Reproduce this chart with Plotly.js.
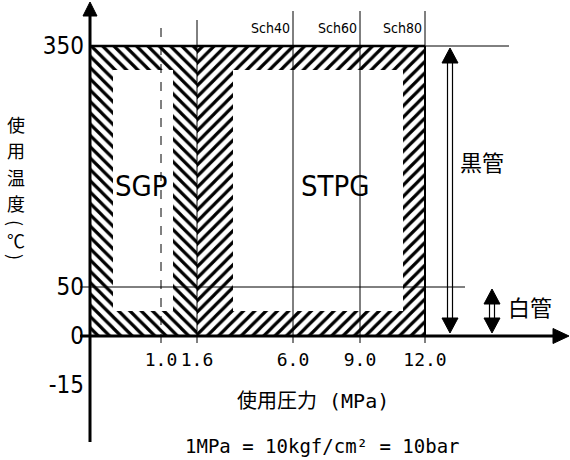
<!DOCTYPE html>
<html><head><meta charset="utf-8">
<script src="https://cdn.plot.ly/plotly-3.0.1.min.js"></script>
<style>html,body{margin:0;padding:0;background:#fff}</style>
</head><body><div id="chart" style="width:570px;height:460px"></div>
<script>
// ---- data (schematic diagram positions, not to scale) ----
const pressureLabels = ['1.0', '1.6', '6.0', '9.0', '12.0'];
const pressurePos    = [71, 107, 203, 270, 335];
const tempLabels     = ['350', '50', '0', '-15'];
const tempPos        = [290, 49, 0, -49];
const schLabels      = ['Sch40', 'Sch60', 'Sch80'];
const schIndex       = [2, 3, 4];            // Sch lines at 6.0, 9.0, 12.0
const regionNames    = ['SGP', 'STPG'];
const regionX0       = [0, 107];             // 0 .. 1.6 , 1.6 .. 12.0
const regionX1       = [107, 335];
const regionY1       = [290, 290];           // up to 350 ℃
const innerX0        = [23, 143];
const innerX1        = [83, 313];
const innerY0        = [25, 25];
const innerY1        = [266, 266];
const regionHatch    = ['\\', '/'];
const pipeNames      = ['黒管', '白管'];
const pipeX          = [360, 402];
const pipeTop        = [290, 49];            // 350 ℃ , 50 ℃
const yTitleChars    = ['使', '用', '温', '度', '(', '℃', ')'];
const yTitleY        = [212.5, 186, 159.5, 133, 113, 96, 79];

const BLACK = '#000';
const traces = [];
for (let i = 0; i < regionNames.length; i++) {
  traces.push({
    type: 'scatter', mode: 'lines', hoverinfo: 'skip', showlegend: false,
    x: [regionX0[i], regionX1[i], regionX1[i], regionX0[i], regionX0[i]],
    y: [0, 0, regionY1[i], regionY1[i], 0],
    fill: 'toself', fillcolor: '#fff', line: {width: 0},
    fillpattern: {shape: regionHatch[i], size: 8, solidity: 0.4, fgcolor: BLACK, bgcolor: '#fff', fillmode: 'replace'}
  });
}
for (let i = 0; i < regionNames.length; i++) {
  traces.push({
    type: 'scatter', mode: 'lines', hoverinfo: 'skip', showlegend: false,
    x: [innerX0[i], innerX1[i], innerX1[i], innerX0[i], innerX0[i]],
    y: [innerY0[i], innerY0[i], innerY1[i], innerY1[i], innerY0[i]],
    fill: 'toself', fillcolor: '#fff', line: {width: 0}
  });
}

const shapes = [];
const line = (x0, y0, x1, y1, w, dash) => shapes.push({type: 'line', layer: 'above', xref: 'x', yref: 'y', x0, y0, x1, y1, line: {color: BLACK, width: w, dash: dash || 'solid'}});
const tri = (pts) => shapes.push({type: 'path', layer: 'above', xref: 'x', yref: 'y',
  path: 'M' + pts.map(p => p[0] + ',' + p[1]).join(' L') + ' Z', fillcolor: BLACK, line: {color: BLACK, width: 1}});

line(0, tempPos[0], 419, tempPos[0], 1);
line(-10, tempPos[1], 375, tempPos[1], 1);
pressurePos.forEach((p, i) => {
  const top = i < 2 ? 316 : 325;
  line(p, -7, p, top, 1, i === 0 ? 'dash' : 'solid');
});
line(0, regionY1[1], regionX1[1], regionY1[1], 2.5);
line(regionX1[1], 0, regionX1[1], regionY1[1], 2);
line(0, -106, 0, 322, 3);
line(-10, 0, 464, 0, 3);
tri([[0, 334], [-7, 320], [7, 320]]);
tri([[479, 0], [463, 7.5], [463, -7.5]]);
for (let i = 0; i < pipeNames.length; i++) {
  const x = pipeX[i], t = pipeTop[i] - 2, b = 3, h = 15, w = 8;
  tri([[x, t], [x - w, t - h], [x + w, t - h]]);
  tri([[x, b], [x - w, b + h], [x + w, b + h]]);
  line(x - 2.5, b + h, x - 2.5, t - h, 1.2);
  line(x + 2.5, b + h, x + 2.5, t - h, 1.2);
}

const JP = 'Noto Sans CJK JP';
const NARROW = 'DejaVu Sans Condensed, Liberation Sans';
const MONO = 'DejaVu Sans Mono';
const ann = [];
const txt = (x, y, text, size, family, xanchor, angle) => ann.push({xref: 'x', yref: 'y', x, y, text, showarrow: false,
  xanchor: xanchor || 'center', yanchor: 'middle', textangle: angle || 0, font: {size, family, color: BLACK}});

txt(51, 150, regionNames[0], 29, NARROW);
txt(245, 150, regionNames[1], 29, NARROW);
schLabels.forEach((s, k) => txt(pressurePos[schIndex[k]] - 1, 308, s, 14, NARROW, 'right'));
txt(392, 175, pipeNames[0], 22, JP);
txt(440, 30, pipeNames[1], 22, JP);
yTitleChars.forEach((c, k) => {
  const paren = (c === '(' || c === ')');
  txt(-74, yTitleY[k], c, 18, JP, 'center', paren ? 90 : 0);
});
txt(223, -65, '使用圧力 (MPa)', 20, MONO + ', ' + JP);
txt(232, -110, '1MPa = 10kgf/cm² = 10bar', 19, MONO);

const layout = {
  width: 570, height: 460,
  margin: {l: 0, r: 0, t: 0, b: 0},
  paper_bgcolor: '#fff', plot_bgcolor: '#fff',
  showlegend: false,
  xaxis: {range: [-90, 480], anchor: 'free', position: 124 / 460, tickangle: 0,
    tickvals: pressurePos, ticktext: pressureLabels, ticks: '', showgrid: false, zeroline: false, showline: false,
    tickfont: {family: MONO, size: 18, color: BLACK}, ticklabelstandoff: 11, fixedrange: true},
  yaxis: {range: [-124, 336], anchor: 'free', position: 90 / 570,
    tickvals: tempPos, ticktext: tempLabels, ticks: '', showgrid: false, zeroline: false, showline: false,
    tickfont: {family: NARROW, size: 24, color: BLACK}, ticklabelstandoff: 6, fixedrange: true},
  shapes, annotations: ann
};
Plotly.newPlot('chart', traces, layout, {staticPlot: true, displayModeBar: false});
</script></body></html>
